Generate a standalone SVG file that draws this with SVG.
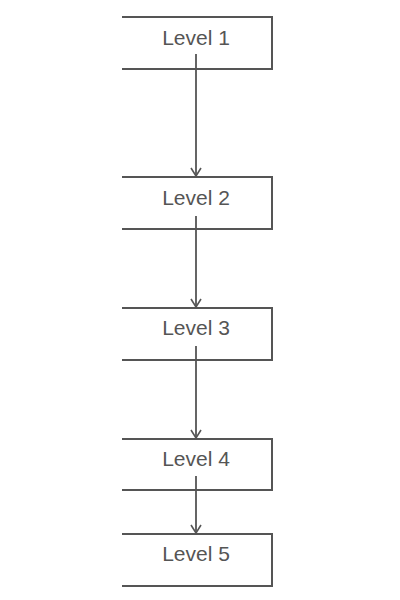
<svg xmlns="http://www.w3.org/2000/svg" width="400" height="600" viewBox="0 0 400 600">
<defs>
<marker id="arr" markerWidth="12" markerHeight="12" refX="10" refY="6" orient="auto" markerUnits="userSpaceOnUse" viewBox="0 0 12 12">
<path d="M2,1 L10,6 L2,11" fill="none" stroke="#555" stroke-width="1.6"/>
</marker>
</defs>
<style>
.box{fill:none;stroke:#555;stroke-width:2}
.lbl{font-family:"Liberation Sans",Arial,sans-serif;font-size:21px;fill:#555;text-anchor:middle}
.edge{fill:none;stroke:#555;stroke-width:1.8}
</style>
<rect width="400" height="600" fill="#fff"/>
<g id="level1"><path class="box" d="M122,17 H272 V69 H122"/><text class="lbl" x="196" y="45">Level 1</text></g>
<g id="level2"><path class="box" d="M122,177 H272 V229 H122"/><text class="lbl" x="196" y="205">Level 2</text></g>
<g id="level3"><path class="box" d="M122,308 H272 V360 H122"/><text class="lbl" x="196" y="335">Level 3</text></g>
<g id="level4"><path class="box" d="M122,439 H272 V490 H122"/><text class="lbl" x="196" y="466">Level 4</text></g>
<g id="level5"><path class="box" d="M122,534 H272 V586 H122"/><text class="lbl" x="196" y="561">Level 5</text></g>
<g id="connectors">
<line class="edge" x1="196" y1="54" x2="196" y2="176" marker-end="url(#arr)"/>
<line class="edge" x1="196" y1="216" x2="196" y2="307" marker-end="url(#arr)"/>
<line class="edge" x1="196" y1="346" x2="196" y2="438" marker-end="url(#arr)"/>
<line class="edge" x1="196" y1="476" x2="196" y2="533" marker-end="url(#arr)"/>
</g>
</svg>
